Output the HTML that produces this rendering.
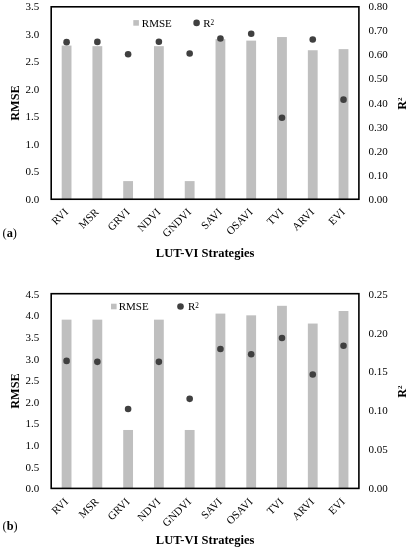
<!DOCTYPE html>
<html><head><meta charset="utf-8"><title>LUT-VI Strategies</title>
<style>
html,body{margin:0;padding:0;background:#fff;}
svg{display:block;font-family:"Liberation Serif","DejaVu Serif",serif;fill:#000;}
</style></head><body>
<svg width="408" height="550" viewBox="0 0 408 550">
<rect width="408" height="550" fill="#fff"/>
<rect x="61.69" y="45.56" width="9.8" height="153.69" fill="#bfbfbf"/>
<rect x="92.45" y="46.17" width="9.8" height="153.08" fill="#bfbfbf"/>
<rect x="123.22" y="181.10" width="9.8" height="18.15" fill="#bfbfbf"/>
<rect x="153.99" y="46.17" width="9.8" height="153.08" fill="#bfbfbf"/>
<rect x="184.77" y="181.10" width="9.8" height="18.15" fill="#bfbfbf"/>
<rect x="215.53" y="39.13" width="9.8" height="160.12" fill="#bfbfbf"/>
<rect x="246.30" y="40.62" width="9.8" height="158.63" fill="#bfbfbf"/>
<rect x="277.08" y="37.04" width="9.8" height="162.21" fill="#bfbfbf"/>
<rect x="307.85" y="50.24" width="9.8" height="149.01" fill="#bfbfbf"/>
<rect x="338.62" y="49.14" width="9.8" height="150.11" fill="#bfbfbf"/>
<circle cx="66.59" cy="42.16" r="3.3" fill="#404040"/>
<circle cx="97.36" cy="41.92" r="3.3" fill="#404040"/>
<circle cx="128.12" cy="54.19" r="3.3" fill="#404040"/>
<circle cx="158.89" cy="41.68" r="3.3" fill="#404040"/>
<circle cx="189.67" cy="53.47" r="3.3" fill="#404040"/>
<circle cx="220.44" cy="38.55" r="3.3" fill="#404040"/>
<circle cx="251.20" cy="33.74" r="3.3" fill="#404040"/>
<circle cx="281.98" cy="117.70" r="3.3" fill="#404040"/>
<circle cx="312.75" cy="39.52" r="3.3" fill="#404040"/>
<circle cx="343.51" cy="99.66" r="3.3" fill="#404040"/>
<rect x="51.2" y="6.8" width="307.70" height="192.45" fill="none" stroke="#000" stroke-width="1.6"/>
<text x="39.30" y="202.75" text-anchor="end" font-size="11">0.0</text>
<text x="39.30" y="175.26" text-anchor="end" font-size="11">0.5</text>
<text x="39.30" y="147.76" text-anchor="end" font-size="11">1.0</text>
<text x="39.30" y="120.27" text-anchor="end" font-size="11">1.5</text>
<text x="39.30" y="92.78" text-anchor="end" font-size="11">2.0</text>
<text x="39.30" y="65.29" text-anchor="end" font-size="11">2.5</text>
<text x="39.30" y="37.79" text-anchor="end" font-size="11">3.0</text>
<text x="39.30" y="10.30" text-anchor="end" font-size="11">3.5</text>
<text x="368.40" y="202.75" text-anchor="start" font-size="11">0.00</text>
<text x="368.40" y="178.69" text-anchor="start" font-size="11">0.10</text>
<text x="368.40" y="154.64" text-anchor="start" font-size="11">0.20</text>
<text x="368.40" y="130.58" text-anchor="start" font-size="11">0.30</text>
<text x="368.40" y="106.53" text-anchor="start" font-size="11">0.40</text>
<text x="368.40" y="82.47" text-anchor="start" font-size="11">0.50</text>
<text x="368.40" y="58.41" text-anchor="start" font-size="11">0.60</text>
<text x="368.40" y="34.36" text-anchor="start" font-size="11">0.70</text>
<text x="368.40" y="10.30" text-anchor="start" font-size="11">0.80</text>
<text transform="translate(68.79,212.75) rotate(-45)" text-anchor="end" font-size="11">RVI</text>
<text transform="translate(99.56,212.75) rotate(-45)" text-anchor="end" font-size="11">MSR</text>
<text transform="translate(130.32,212.75) rotate(-45)" text-anchor="end" font-size="11">GRVI</text>
<text transform="translate(161.09,212.75) rotate(-45)" text-anchor="end" font-size="11">NDVI</text>
<text transform="translate(191.87,212.75) rotate(-45)" text-anchor="end" font-size="11">GNDVI</text>
<text transform="translate(222.63,212.75) rotate(-45)" text-anchor="end" font-size="11">SAVI</text>
<text transform="translate(253.40,212.75) rotate(-45)" text-anchor="end" font-size="11">OSAVI</text>
<text transform="translate(284.18,212.75) rotate(-45)" text-anchor="end" font-size="11">TVI</text>
<text transform="translate(314.94,212.75) rotate(-45)" text-anchor="end" font-size="11">ARVI</text>
<text transform="translate(345.71,212.75) rotate(-45)" text-anchor="end" font-size="11">EVI</text>
<text transform="translate(19.2,103.03) rotate(-90)" text-anchor="middle" font-size="12.3" font-weight="bold">RMSE</text>
<text transform="translate(405.8,103.62) rotate(-90)" text-anchor="middle" font-size="12.3" font-weight="bold">R<tspan font-size="6.9" dy="-3.9">2</tspan></text>
<text x="205.05" y="257" text-anchor="middle" font-size="12.5" font-weight="bold">LUT-VI Strategies</text>
<rect x="133.3" y="20.099999999999998" width="5.6" height="5.6" fill="#bfbfbf"/>
<text x="141.8" y="26.599999999999998" font-size="11">RMSE</text>
<circle cx="196.6" cy="22.9" r="3.3" fill="#404040"/>
<text x="203.2" y="26.599999999999998" font-size="11">R<tspan font-size="7.2" dy="-2.1">2</tspan></text>
<text x="2.6" y="237" font-size="12.3">(<tspan font-weight="bold">a</tspan>)</text>
<rect x="61.69" y="319.66" width="9.8" height="168.74" fill="#bfbfbf"/>
<rect x="92.45" y="319.66" width="9.8" height="168.74" fill="#bfbfbf"/>
<rect x="123.22" y="429.99" width="9.8" height="58.41" fill="#bfbfbf"/>
<rect x="153.99" y="319.66" width="9.8" height="168.74" fill="#bfbfbf"/>
<rect x="184.77" y="429.99" width="9.8" height="58.41" fill="#bfbfbf"/>
<rect x="215.53" y="313.60" width="9.8" height="174.80" fill="#bfbfbf"/>
<rect x="246.30" y="315.33" width="9.8" height="173.07" fill="#bfbfbf"/>
<rect x="277.08" y="305.81" width="9.8" height="182.59" fill="#bfbfbf"/>
<rect x="307.85" y="323.55" width="9.8" height="164.85" fill="#bfbfbf"/>
<rect x="338.62" y="311.01" width="9.8" height="177.39" fill="#bfbfbf"/>
<circle cx="66.59" cy="360.91" r="3.3" fill="#404040"/>
<circle cx="97.36" cy="361.84" r="3.3" fill="#404040"/>
<circle cx="128.12" cy="408.96" r="3.3" fill="#404040"/>
<circle cx="158.89" cy="361.84" r="3.3" fill="#404040"/>
<circle cx="189.67" cy="398.84" r="3.3" fill="#404040"/>
<circle cx="220.44" cy="348.99" r="3.3" fill="#404040"/>
<circle cx="251.20" cy="354.21" r="3.3" fill="#404040"/>
<circle cx="281.98" cy="337.94" r="3.3" fill="#404040"/>
<circle cx="312.75" cy="374.46" r="3.3" fill="#404040"/>
<circle cx="343.51" cy="345.72" r="3.3" fill="#404040"/>
<rect x="51.2" y="293.7" width="307.70" height="194.70" fill="none" stroke="#000" stroke-width="1.6"/>
<text x="39.30" y="492.30" text-anchor="end" font-size="11">0.0</text>
<text x="39.30" y="470.67" text-anchor="end" font-size="11">0.5</text>
<text x="39.30" y="449.03" text-anchor="end" font-size="11">1.0</text>
<text x="39.30" y="427.40" text-anchor="end" font-size="11">1.5</text>
<text x="39.30" y="405.77" text-anchor="end" font-size="11">2.0</text>
<text x="39.30" y="384.13" text-anchor="end" font-size="11">2.5</text>
<text x="39.30" y="362.50" text-anchor="end" font-size="11">3.0</text>
<text x="39.30" y="340.87" text-anchor="end" font-size="11">3.5</text>
<text x="39.30" y="319.23" text-anchor="end" font-size="11">4.0</text>
<text x="39.30" y="297.60" text-anchor="end" font-size="11">4.5</text>
<text x="368.40" y="492.30" text-anchor="start" font-size="11">0.00</text>
<text x="368.40" y="453.36" text-anchor="start" font-size="11">0.05</text>
<text x="368.40" y="414.42" text-anchor="start" font-size="11">0.10</text>
<text x="368.40" y="375.48" text-anchor="start" font-size="11">0.15</text>
<text x="368.40" y="336.54" text-anchor="start" font-size="11">0.20</text>
<text x="368.40" y="297.60" text-anchor="start" font-size="11">0.25</text>
<text transform="translate(68.79,502.30) rotate(-45)" text-anchor="end" font-size="11">RVI</text>
<text transform="translate(99.56,502.30) rotate(-45)" text-anchor="end" font-size="11">MSR</text>
<text transform="translate(130.32,502.30) rotate(-45)" text-anchor="end" font-size="11">GRVI</text>
<text transform="translate(161.09,502.30) rotate(-45)" text-anchor="end" font-size="11">NDVI</text>
<text transform="translate(191.87,502.30) rotate(-45)" text-anchor="end" font-size="11">GNDVI</text>
<text transform="translate(222.63,502.30) rotate(-45)" text-anchor="end" font-size="11">SAVI</text>
<text transform="translate(253.40,502.30) rotate(-45)" text-anchor="end" font-size="11">OSAVI</text>
<text transform="translate(284.18,502.30) rotate(-45)" text-anchor="end" font-size="11">TVI</text>
<text transform="translate(314.94,502.30) rotate(-45)" text-anchor="end" font-size="11">ARVI</text>
<text transform="translate(345.71,502.30) rotate(-45)" text-anchor="end" font-size="11">EVI</text>
<text transform="translate(19.2,391.05) rotate(-90)" text-anchor="middle" font-size="12.3" font-weight="bold">RMSE</text>
<text transform="translate(405.8,391.65) rotate(-90)" text-anchor="middle" font-size="12.3" font-weight="bold">R<tspan font-size="6.9" dy="-3.9">2</tspan></text>
<text x="205.05" y="543.5" text-anchor="middle" font-size="12.5" font-weight="bold">LUT-VI Strategies</text>
<rect x="111" y="303.7" width="5.6" height="5.6" fill="#bfbfbf"/>
<text x="118.7" y="310.2" font-size="11">RMSE</text>
<circle cx="180.5" cy="306.5" r="3.3" fill="#404040"/>
<text x="187.9" y="310.2" font-size="11">R<tspan font-size="7.2" dy="-2.1">2</tspan></text>
<text x="2.6" y="530.3" font-size="12.3">(<tspan font-weight="bold">b</tspan>)</text>
</svg>
</body></html>
